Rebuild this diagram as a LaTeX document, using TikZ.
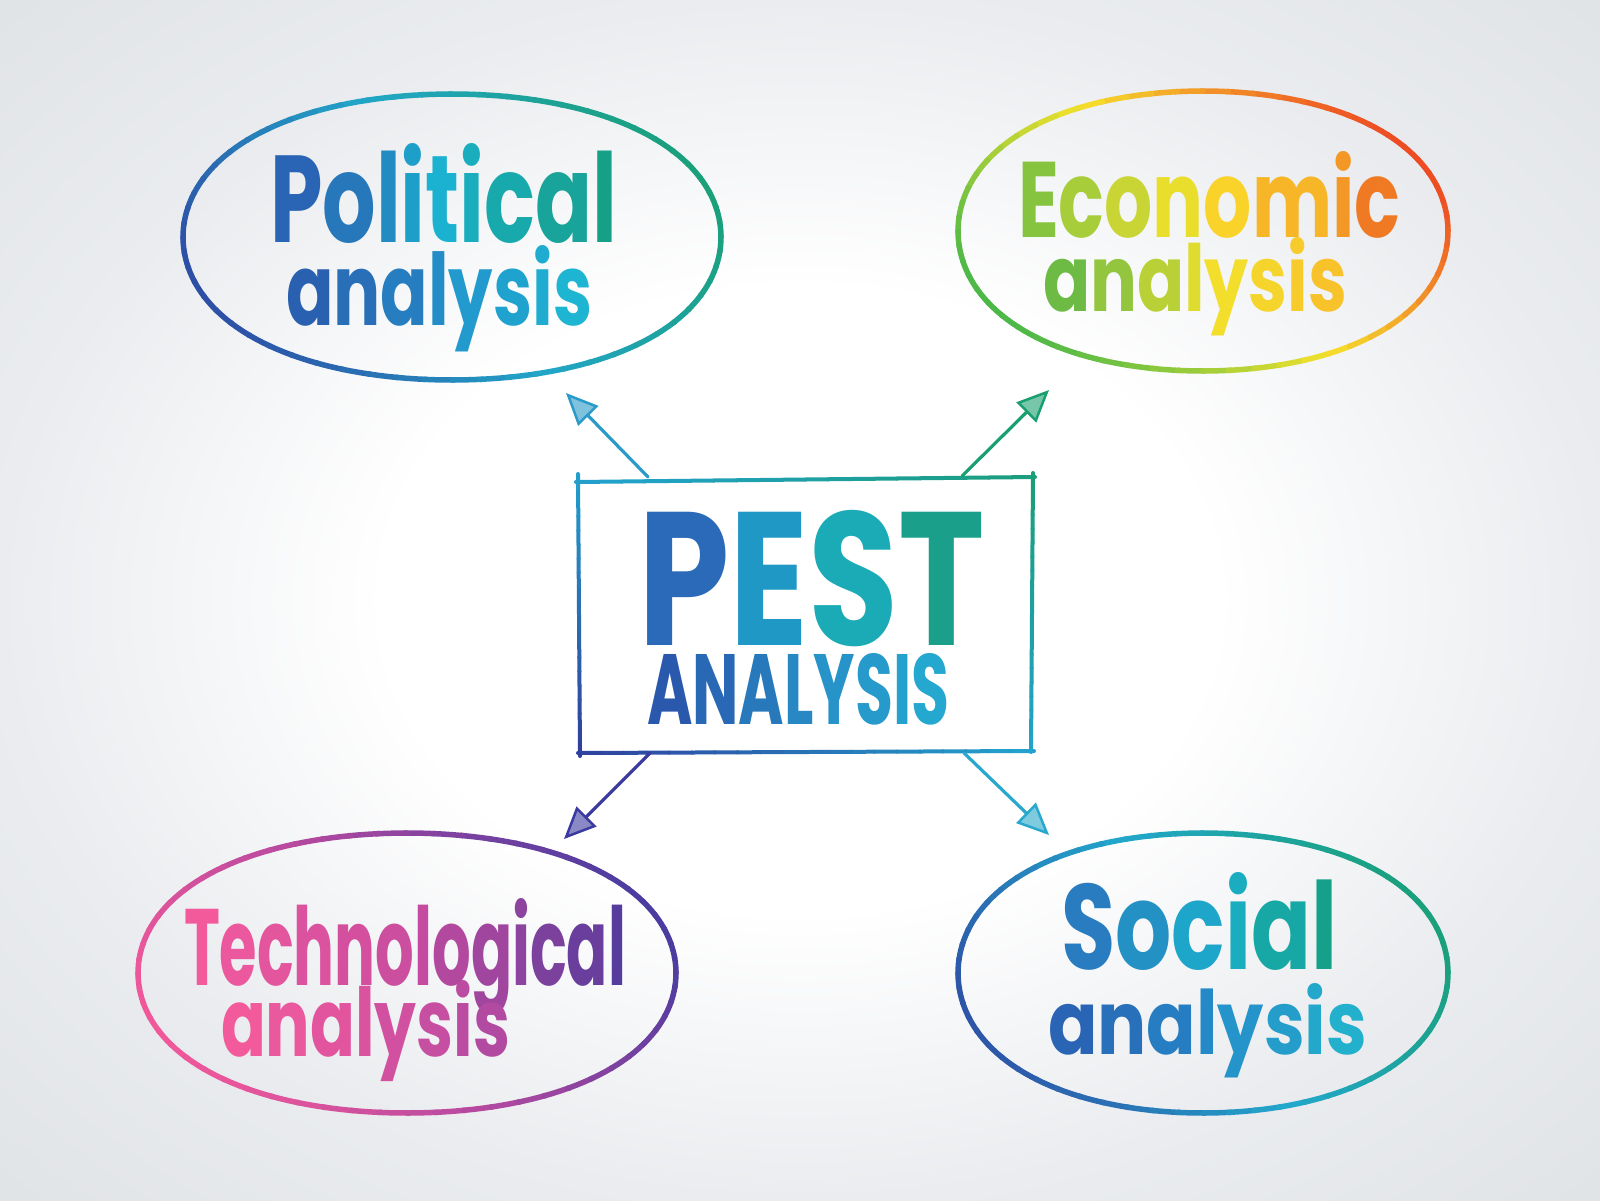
\documentclass[tikz,border=0pt]{standalone}
\usepackage{fontspec}
\usepackage{graphicx}
\newfontfamily\hand{Poppins}
\usetikzlibrary{arrows.meta,shapes.geometric}
% colours
\definecolor{bgmid}{RGB}{234,236,239}
\definecolor{bgedge}{RGB}{224,227,230}
\pgfdeclareradialshading{bgshade}{\pgfpoint{0bp}{0bp}}{color(0bp)=(white); color(13bp)=(white); color(25bp)=(bgmid); color(36bp)=(bgedge); color(50bp)=(bgedge)}
\definecolor{polA}{HTML}{2D4FA6}\definecolor{polB}{HTML}{22A6C8}\definecolor{polC}{HTML}{1AA07A}
\definecolor{ecoA}{HTML}{4CB848}\definecolor{ecoB}{HTML}{F5E22C}\definecolor{ecoC}{HTML}{EE4A24}
\definecolor{tecA}{HTML}{F0589A}\definecolor{tecB}{HTML}{B048A0}\definecolor{tecC}{HTML}{4A3CA0}
\definecolor{socA}{HTML}{2D55A8}\definecolor{socB}{HTML}{22A8CC}\definecolor{socC}{HTML}{1AA07A}
\definecolor{boxA}{HTML}{303F9F}\definecolor{boxB}{HTML}{22A2CC}\definecolor{boxC}{HTML}{1A9E78}
% text colours
\definecolor{ptA}{HTML}{2A64B4}\definecolor{ptB}{HTML}{1AB2D0}\definecolor{ptC}{HTML}{17A088}
\definecolor{paA}{HTML}{2A60B0}\definecolor{paB}{HTML}{2395CC}\definecolor{paC}{HTML}{1DB5D2}
\definecolor{etA}{HTML}{86C440}\definecolor{etB}{HTML}{FBE22A}\definecolor{etC}{HTML}{F07A24}
\definecolor{eaA}{HTML}{6DBB45}\definecolor{eaB}{HTML}{F3E22C}\definecolor{eaC}{HTML}{F8C22A}
\definecolor{stA}{HTML}{2A6AB8}\definecolor{stB}{HTML}{1AB0CC}\definecolor{stC}{HTML}{1AA08A}
\definecolor{saA}{HTML}{2A58AC}\definecolor{saB}{HTML}{2690C8}\definecolor{saC}{HTML}{25A8D0}
\definecolor{ttA}{HTML}{F25A9C}\definecolor{ttB}{HTML}{C44BA0}\definecolor{ttC}{HTML}{563C9C}
\definecolor{taA}{HTML}{F25A9C}\definecolor{taB}{HTML}{D652A0}\definecolor{taC}{HTML}{B24AA2}
\definecolor{otA}{HTML}{2A7CC0}\definecolor{otB}{HTML}{1AB0CC}\definecolor{otC}{HTML}{15A08A}
\definecolor{oaA}{HTML}{2A64B4}\definecolor{oaB}{HTML}{2590CA}\definecolor{oaC}{HTML}{22B0CC}
\definecolor{arP}{HTML}{2A9AC8}\definecolor{arE}{HTML}{1AA070}\definecolor{arT}{HTML}{3A3AA0}\definecolor{arS}{HTML}{28A8CC}
% gradient text: #1 count, #2 #3 #4 colours, #5 letters
\newcommand\gtext[5]{%
  \foreach \l [count=\i] in {#5}{%
    \pgfmathtruncatemacro\p{200*(\i-1)/(#1-1)}%
    \ifnum\p>100 \pgfmathtruncatemacro\q{\p-100}\textcolor{#4!\q!#3}{\l}%
    \else\textcolor{#3!\p!#2}{\l}\fi}}
% gradient ellipse: cx cy rx ry phi A B C
\newcommand\gell[8]{%
  \foreach \a in {0,6,...,354}{%
    \pgfmathtruncatemacro\p{100*(1+cos(\a+3-#5))}%
    \ifnum\p>100 \pgfmathtruncatemacro\q{\p-100}\colorlet{cur}{#8!\q!#7}%
    \else\colorlet{cur}{#7!\p!#6}\fi
    \pgfmathsetmacro\b{\a+6.5}%
    \draw[line width=5.5, line cap=round, color=cur] plot[domain=\a:\b, samples=4, variable=\t]
      ({#1+#3*cos(\t)*(1+0.02*sin(2*\t)*sin(2*\t))}, {#2-#4*sin(\t)*(1+0.02*sin(2*\t)*sin(2*\t))});
  }}
% gradient line for the box
\newcommand\gline[4]{%
  \foreach \k in {0,...,19}{%
    \pgfmathsetmacro\xa{#1+(#3-#1)*\k/20}\pgfmathsetmacro\ya{#2+(#4-#2)*\k/20}%
    \pgfmathsetmacro\xb{#1+(#3-#1)*(\k+1)/20}\pgfmathsetmacro\yb{#2+(#4-#2)*(\k+1)/20}%
    \pgfmathtruncatemacro\p{100*((\xa-578)/455+(752-\ya)/276)}%
    \ifnum\p<0 \def\p{0}\fi\ifnum\p>200 \def\p{200}\fi
    \ifnum\p>100 \pgfmathtruncatemacro\q{\p-100}\colorlet{cur}{boxC!\q!boxB}%
    \else\colorlet{cur}{boxB!\p!boxA}\fi
    \draw[line width=4, line cap=round, color=cur] (\xa,\ya) -- (\xb,\yb);
  }}
\tikzset{
  lbl/.style={anchor=base west, inner sep=0pt, outer sep=0pt},
  region/.style={ellipse, inner sep=0pt, draw=none},
  link/.style={line width=3.2, line cap=round, line join=round},
}
\begin{document}
\begin{tikzpicture}[x=1pt, y=-1pt]
\useasboundingbox (0,0) rectangle (1600,1200);
\shade[shading=bgshade] (0,0) rectangle (1600,1200);

% invisible region nodes
\node[region, minimum width=538, minimum height=286] (pol) at (452,237) {};
\node[region, minimum width=490, minimum height=280] (eco) at (1203,231) {};
\node[region, minimum width=538, minimum height=280] (tec) at (407,973) {};
\node[region, minimum width=490, minimum height=280] (soc) at (1203,973) {};
\node[rectangle, inner sep=0pt, minimum width=455, minimum height=276, draw=none] (pest) at (805.5,614) {};

% outlines
\gell{452}{237}{269}{143}{20}{polA}{polB}{polC}
\gell{1203}{231}{245}{140}{30}{ecoA}{ecoB}{ecoC}
\gell{407}{973}{269}{140}{20}{tecA}{tecB}{tecC}
\gell{1203}{973}{245}{140}{20}{socA}{socB}{socC}

% box (hand drawn)
\gline{576}{482}{1035}{477}
\gline{1033}{473}{1031}{752}
\gline{1034}{751}{578}{753}
\gline{580}{756}{578}{474}

% arrows
\coordinate (pEnd) at (566,393);
\coordinate (eEnd) at (1049,390);
\coordinate (tEnd) at (564,839);
\coordinate (sEnd) at (1049,835);
\coordinate (pStart) at (648,477);
\coordinate (eStart) at (962,476);
\coordinate (tStart) at (650,753);
\coordinate (sStart) at (964,753);
\draw[link, arP, -{Triangle[length=32, width=28, line width=2.5, fill=arP!60]}] (pStart) -- (pEnd);
\draw[link, arE, -{Triangle[length=32, width=28, line width=2.5, fill=arE!60]}] (eStart) -- (eEnd);
\draw[link, arT, -{Triangle[length=32, width=28, line width=2.5, fill=arT!60]}] (tStart) -- (tEnd);
\draw[link, arS, -{Triangle[length=32, width=28, line width=2.5, fill=arS!60]}] (sStart) -- (sEnd);

% texts
\node[lbl] (polt1) at (270,242) {\resizebox{347pt}{99pt}{\hand\bfseries\gtext{9}{ptA}{ptB}{ptC}{P,o,l,i,t,i,c,a,l}}};
\node[lbl] (polt2) at (286,325) {\resizebox{306pt}{80pt}{\hand\bfseries\gtext{8}{paA}{paB}{paC}{a,n,a,l,y,s,i,s}}};
\node[lbl] (ecot1) at (1018,237) {\resizebox{382pt}{86pt}{\hand\bfseries\gtext{8}{etA}{etB}{etC}{E,c,o,n,o,m,i,c}}};
\node[lbl] (ecot2) at (1043,311) {\resizebox{304pt}{74pt}{\hand\bfseries\gtext{8}{eaA}{eaB}{eaC}{a,n,a,l,y,s,i,s}}};
\node[lbl] (pestt1) at (638,645) {\resizebox{347pt}{135pt}{\hand\bfseries\gtext{4}{stA}{stB}{stC}{P,E,S,T}}};
\node[lbl] (pestt2) at (647,724) {\resizebox{302pt}{71pt}{\hand\bfseries\gtext{8}{saA}{saB}{saC}{A,N,A,L,Y,S,I,S}}};
\node[lbl] (tect1) at (184,985) {\resizebox{442pt}{87pt}{\hand\bfseries\gtext{13}{ttA}{ttB}{ttC}{T,e,c,h,n,o,l,o,g,i,c,a,l}}};
\node[lbl] (tect2) at (221,1056) {\resizebox{289pt}{76pt}{\hand\bfseries\gtext{8}{taA}{taB}{taC}{a,n,a,l,y,s,i,s}}};
\node[lbl] (soct1) at (1061,969) {\resizebox{276pt}{97pt}{\hand\bfseries\gtext{6}{otA}{otB}{otC}{S,o,c,i,a,l}}};
\node[lbl] (soct2) at (1048,1054) {\resizebox{319pt}{71pt}{\hand\bfseries\gtext{8}{oaA}{oaB}{oaC}{a,n,a,l,y,s,i,s}}};
\end{tikzpicture}
\end{document}
